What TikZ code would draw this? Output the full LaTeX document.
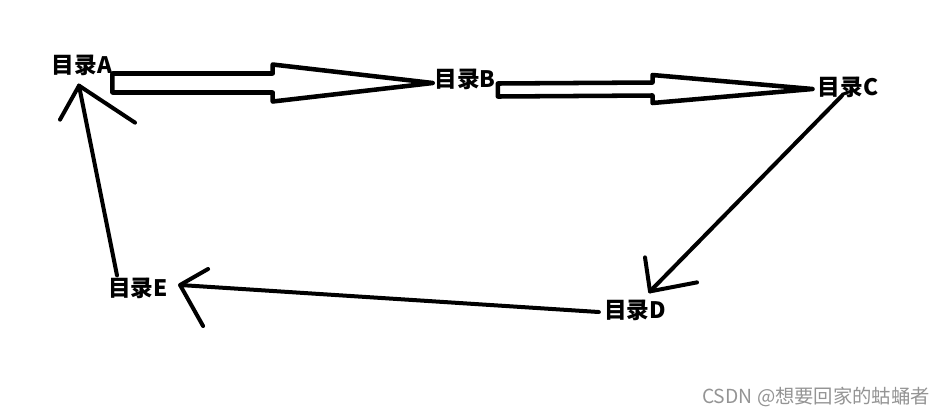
\documentclass[tikz,border=0pt]{standalone}
\usepackage{fontspec}
\newfontfamily\cjk{Noto Sans CJK SC}
\usetikzlibrary{calc}
\tikzset{
    dir/.style = {font={\cjk\bfseries\fontsize{17}{17}\selectfont},inner sep=0},
    stroke/.style = {line width=3pt,line cap=round,line join=round},
    fat/.style = {line width=3.4pt,line join=round,fill=white},
    wmtext/.style = {font={\cjk\fontsize{14.5}{14.5}\selectfont},text=black!42,inner sep=0}
}
% start, tip, shaft half width, head half width, head length
\newcommand{\fatarrow}[5]{%
    \draw[fat] ($(#1)+(0,-#3)$) -- ($(#2)+(-#5,-#3)$) -- ($(#2)+(-#5,-#4)$) -- (#2)
        -- ($(#2)+(-#5,#4)$) -- ($(#2)+(-#5,#3)$) -- ($(#1)+(0,#3)$) -- cycle;}
\begin{document}
\begin{tikzpicture}[x=0.75pt,y=-0.75pt]
        \useasboundingbox (0,0) rectangle (948,415);
        % Directories
        \node[dir] (A) at (82,65) {目录A};
        \node[dir] (B) at (465,79) {目录B};
        \node[dir] (C) at (848,87) {目录C};
        \node[dir] (D) at (635,310) {目录D};
        \node[dir] (E) at (138,288) {目录E};
        % Ends
        \coordinate (ab0) at ([shift={(0,18)}]A.east);
        \coordinate (ab1) at ([shift={(-1.5,4)}]B.west);
        \coordinate (bc0) at ([shift={(2,11)}]B.east);
        \coordinate (bc1) at ([shift={(-5,2)}]C.west);
        \coordinate (ctail) at ([shift={(-6,-2)}]C.south);
        \coordinate (dtip) at ([shift={(15,-8)}]D.north);
        \coordinate (dtail) at ([shift={(-5,2)}]D.west);
        \coordinate (etip) at ([shift={(12,-3)}]E.east);
        \coordinate (etail) at ([shift={(-21,-2)}]E.north);
        \coordinate (atip) at ([shift={(-3,10)}]A.south);
        % Fat arrows
        \fatarrow{ab0}{ab1}{9.5}{18.5}{160}
        \fatarrow{bc0}{bc1}{6.5}{14}{160}
        % Thin arrows
        \foreach \src/\dest in {ctail/dtip,dtail/etip,etail/atip}
            \draw[stroke] (\src) to (\dest);
        \foreach \tip/\ax/\ay/\bx/\by in {dtip/-5/-34/47/-9,etip/28/-16/23/41,atip/-19/34/56/37}
            \draw[stroke] ([shift={(\ax,\ay)}]\tip) -- (\tip) -- ([shift={(\bx,\by)}]\tip);
        % Watermark
        \node[wmtext] (wm) at (816,397) {CSDN @想要回家的蛄蛹者};
    \end{tikzpicture}
\end{document}
